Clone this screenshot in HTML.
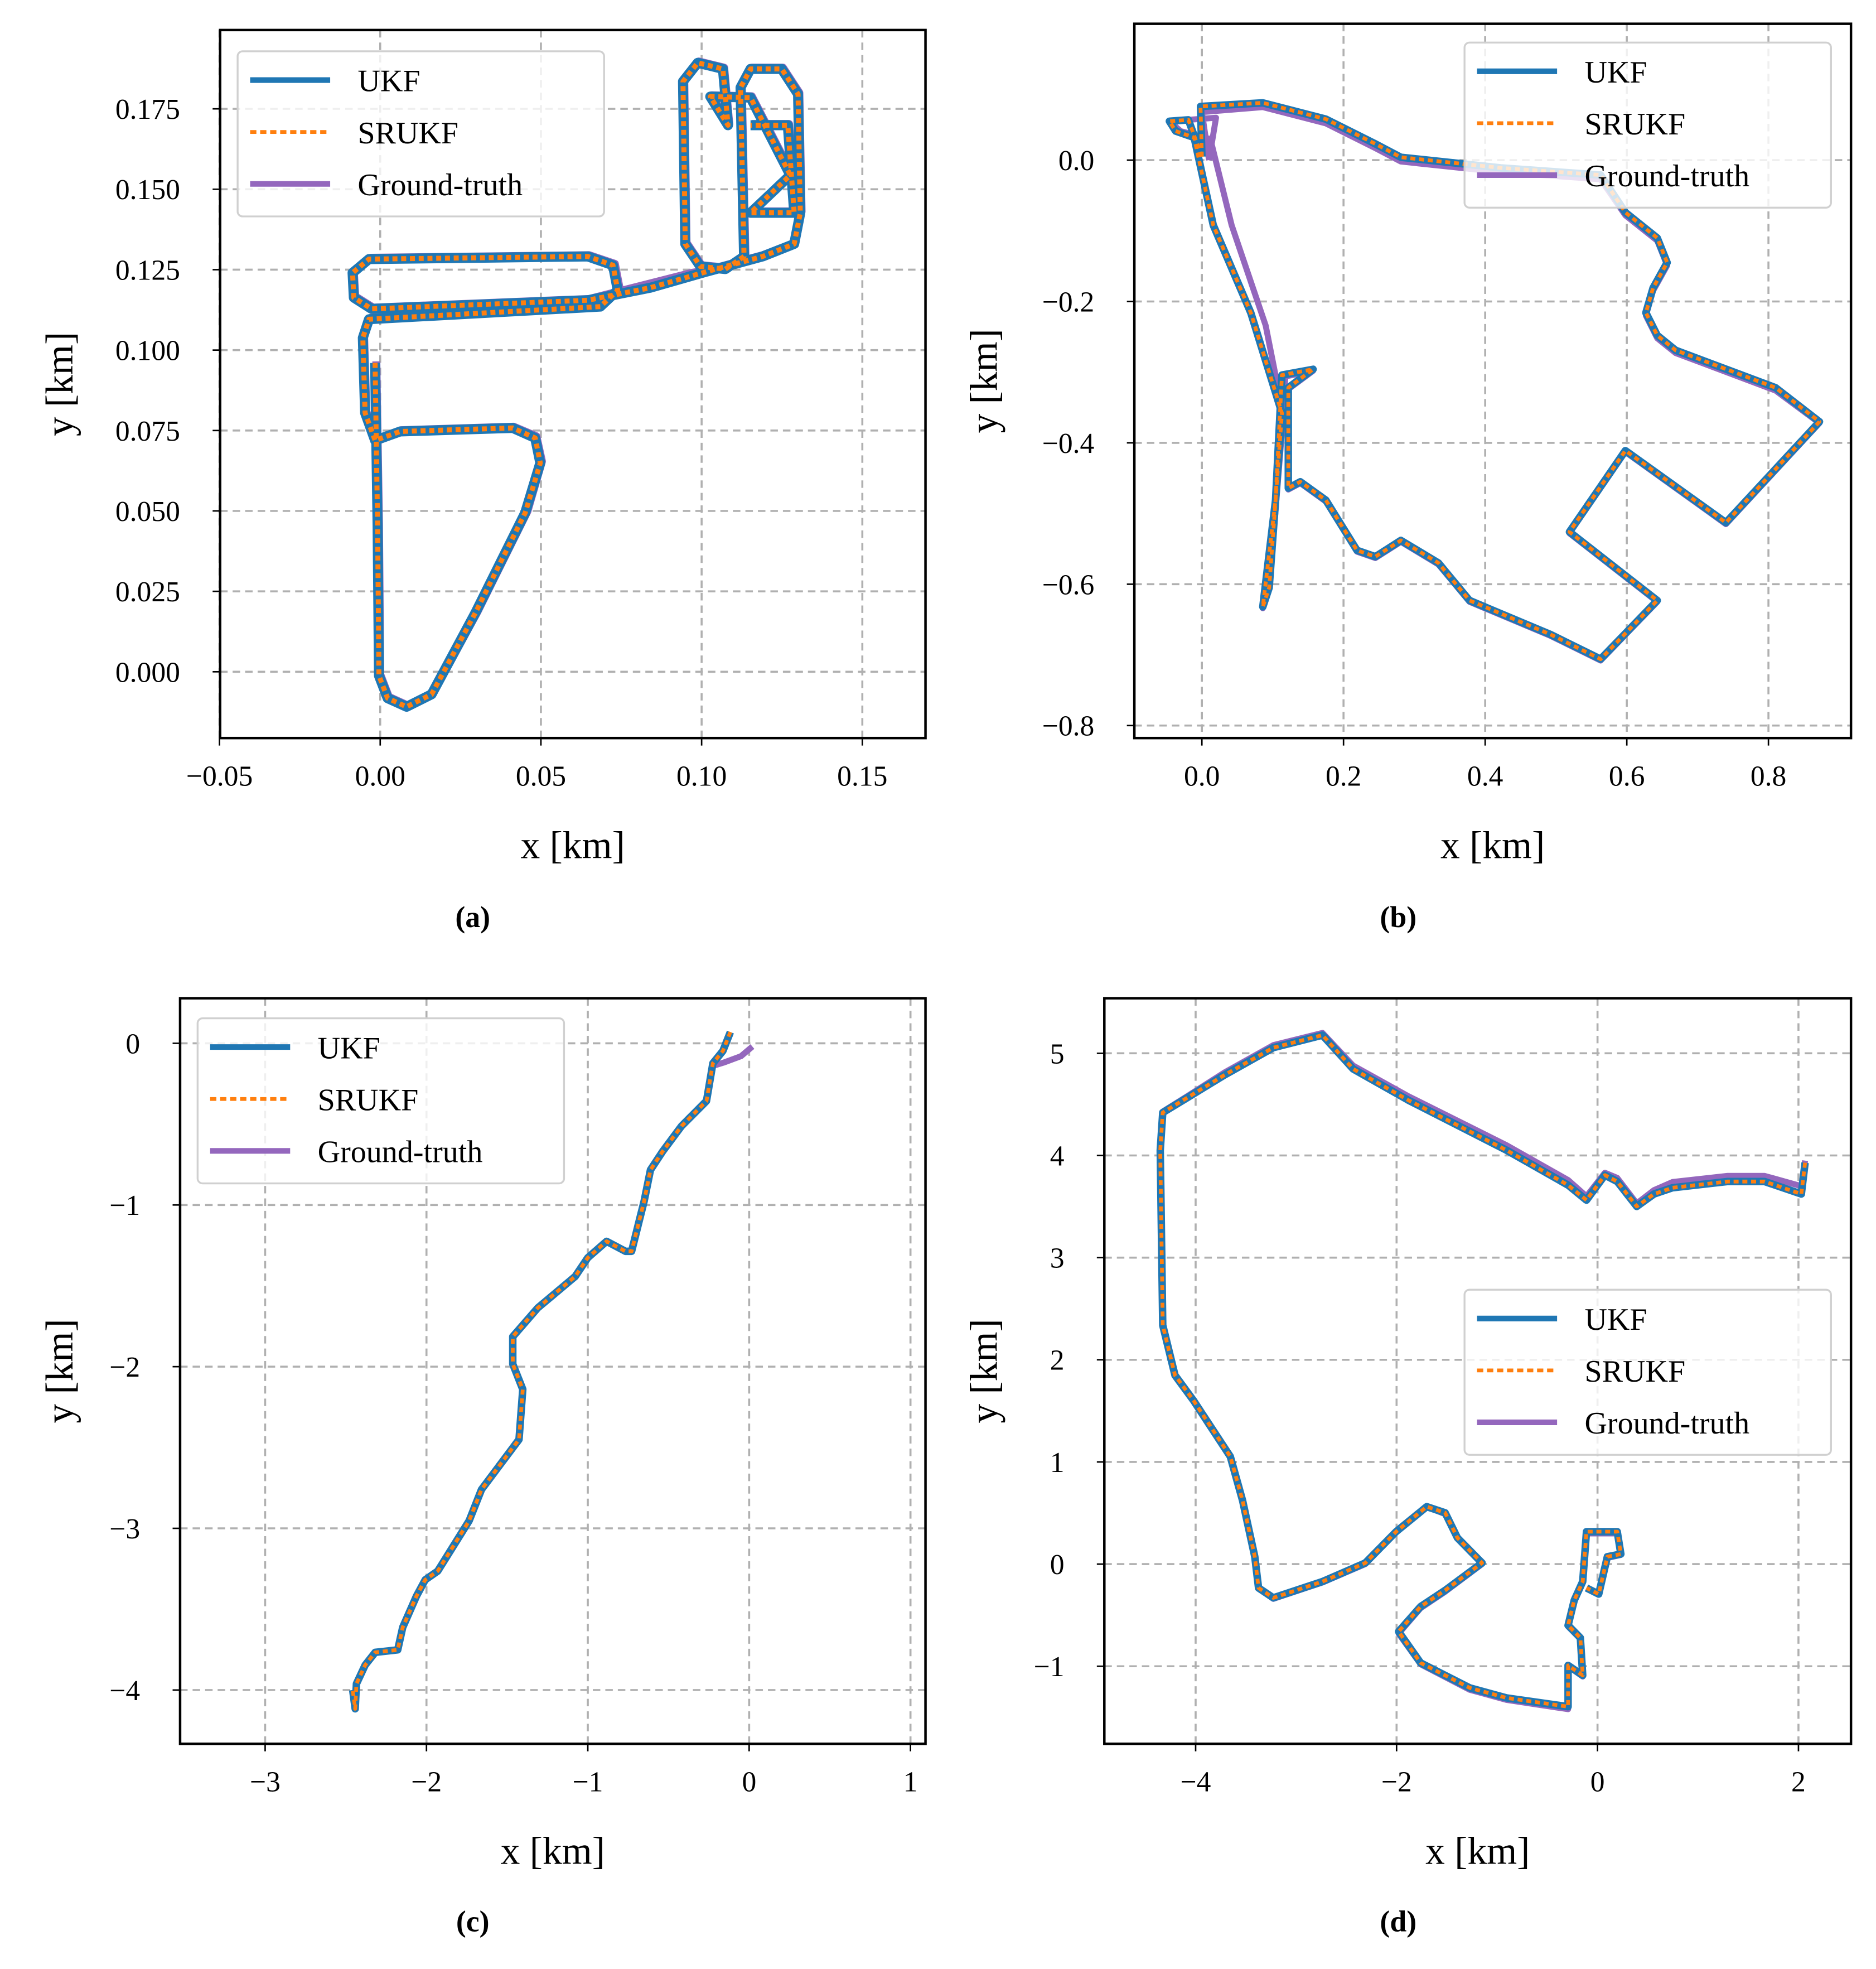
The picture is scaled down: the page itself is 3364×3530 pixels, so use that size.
<!DOCTYPE html>
<html><head><meta charset="utf-8"><style>
html,body{margin:0;padding:0;background:#fff}
svg{display:block}
text{font-family:"Liberation Serif",serif;fill:#000}
</style></head><body>
<svg id="fig" width="3364" height="3530" viewBox="0 0 1500 1574" xmlns="http://www.w3.org/2000/svg"></svg>
<script>
// ---- Panel (a) data (km) ----
const aEstX=[-0.0016,-0.0008,-0.0004,0.0023,0.0082,0.016,0.0296,0.0451,0.0498,0.0482,0.0412,0.0062,-0.0016,-0.0047,-0.0054,-0.0035,0.0685,0.0739,0.0724,0.0646,-0.0035,-0.0086,-0.0082,-0.0027,0.0646,0.084,0.1016,0.119,0.1288,0.1307,0.13,0.1249,0.1152,0.1121,0.1132,0.1074,0.0996,0.0949,0.0942,0.0988,0.1066,0.1082,0.1027,0.1152,0.1276,0.1152,0.1288,0.1268,0.1152];
const aEstY=[0.096,0.0455,-0.0012,-0.0082,-0.0109,-0.007,0.0183,0.0494,0.0649,0.0727,0.0758,0.0747,0.0719,0.0805,0.1038,0.1096,0.1135,0.1186,0.1264,0.1291,0.1283,0.124,0.1163,0.1128,0.1155,0.1194,0.1244,0.1291,0.133,0.1427,0.1796,0.1874,0.1874,0.1816,0.1291,0.1252,0.126,0.133,0.1835,0.1893,0.1874,0.1699,0.1788,0.1785,0.1544,0.1427,0.1427,0.1699,0.1699];
const aGtX=[-0.0012,-0.0004,0.0,0.0027,0.0086,0.0165,0.0303,0.0458,0.0503,0.0486,0.0415,0.0065,-0.0012,-0.0043,-0.0050,-0.0030,0.0690,0.0745,0.0730,0.0650,-0.0030,-0.0082,-0.0078,-0.0022,0.0650,0.097,0.1016,0.119,0.1292,0.1311,0.1304,0.1253,0.1156,0.1125,0.1136,0.1078,0.1000,0.0953,0.0946,0.0992,0.1070,0.1086,0.1031,0.1156,0.1280,0.1156,0.1292,0.1272,0.1156];
const aGtY=[0.0965,0.046,-0.0008,-0.0078,-0.0105,-0.0066,0.0188,0.0499,0.0654,0.0732,0.0762,0.0751,0.0723,0.0809,0.1042,0.110,0.1139,0.1190,0.1268,0.1295,0.1287,0.1244,0.1167,0.1132,0.1159,0.1240,0.1248,0.1295,0.1334,0.1431,0.1800,0.1878,0.1878,0.1820,0.1295,0.1256,0.1264,0.1334,0.1839,0.1897,0.1878,0.1703,0.1792,0.1789,0.1548,0.1431,0.1431,0.1703,0.1703];
const aXTicks=[-0.05,0.00,0.05,0.10,0.15];
const aXLabels=["\u22120.05","0.00","0.05","0.10","0.15"];
const aYTicks=[0,0.025,0.05,0.075,0.1,0.125,0.15,0.175];
const aYLabels=["0.000","0.025","0.050","0.075","0.100","0.125","0.150","0.175"];
// ---- Panel (b) ----
const bEstX=[0,-0.002,0.086,0.175,0.245,0.281,0.422,0.563,0.598,0.643,0.657,0.637,0.627,0.643,0.669,0.810,0.872,0.740,0.598,0.519,0.643,0.563,0.492,0.378,0.334,0.281,0.245,0.219,0.175,0.139,0.122,0.122,0.157,0.113,0.104,0.086,0.095,0.113,0.069,0.016,-0.011,-0.037,-0.046,-0.019,0];
const bEstY=[0.005,0.076,0.081,0.058,0.023,0.004,-0.011,-0.021,-0.074,-0.110,-0.145,-0.181,-0.216,-0.248,-0.269,-0.322,-0.370,-0.513,-0.411,-0.526,-0.623,-0.706,-0.671,-0.623,-0.570,-0.538,-0.561,-0.552,-0.481,-0.455,-0.464,-0.322,-0.296,-0.304,-0.481,-0.632,-0.605,-0.358,-0.216,-0.092,0.032,0.041,0.055,0.057,0.005];
const bGtX=[0.01,0.0,0.086,0.175,0.245,0.281,0.422,0.563,0.598,0.643,0.657,0.637,0.627,0.643,0.669,0.810,0.872,0.740,0.598,0.519,0.643,0.563,0.492,0.378,0.334,0.281,0.245,0.219,0.175,0.139,0.122,0.122,0.157,0.118,0.104,0.086,0.095,0.115,0.090,0.042,0.012,-0.030,-0.046,0.02,0.01];
const bGtY=[0.0,0.068,0.075,0.052,0.017,-0.002,-0.017,-0.027,-0.078,-0.114,-0.149,-0.185,-0.220,-0.252,-0.273,-0.326,-0.372,-0.515,-0.413,-0.528,-0.625,-0.708,-0.673,-0.625,-0.572,-0.540,-0.563,-0.554,-0.483,-0.457,-0.466,-0.324,-0.298,-0.306,-0.483,-0.634,-0.607,-0.360,-0.234,-0.092,0.030,0.041,0.055,0.060,0.0];
const bXTicks=[0,0.2,0.4,0.6,0.8];
const bXLabels=["0.0","0.2","0.4","0.6","0.8"];
const bYTicks=[0,-0.2,-0.4,-0.6,-0.8];
const bYLabels=["0.0","\u22120.2","\u22120.4","\u22120.6","\u22120.8"];
// ---- Panel (c) ----
const cEstX=[-0.116,-0.163,-0.225,-0.264,-0.419,-0.535,-0.612,-0.651,-0.729,-0.767,-0.884,-1.0,-1.078,-1.31,-1.465,-1.465,-1.403,-1.426,-1.543,-1.659,-1.736,-1.930,-2.008,-2.062,-2.147,-2.178,-2.318,-2.380,-2.434,-2.442,-2.457];
const cEstY=[0.070,-0.047,-0.124,-0.357,-0.512,-0.667,-0.783,-0.977,-1.287,-1.287,-1.225,-1.326,-1.442,-1.636,-1.814,-1.984,-2.140,-2.450,-2.605,-2.760,-2.953,-3.264,-3.318,-3.419,-3.612,-3.752,-3.767,-3.845,-3.961,-4.116,-4.0];
const cGtX=[0.02,-0.05,-0.16,-0.225,-0.264,-0.419,-0.535,-0.612,-0.651,-0.729,-0.767,-0.884,-1.0,-1.078,-1.31,-1.465,-1.465,-1.403,-1.426,-1.543,-1.659,-1.736,-1.930,-2.008,-2.062,-2.147,-2.178,-2.318,-2.380,-2.434,-2.442,-2.457];
const cGtY=[-0.02,-0.08,-0.12,-0.14,-0.357,-0.512,-0.667,-0.783,-0.977,-1.287,-1.287,-1.225,-1.326,-1.442,-1.636,-1.814,-1.984,-2.140,-2.450,-2.605,-2.760,-2.953,-3.264,-3.318,-3.419,-3.612,-3.752,-3.767,-3.845,-3.961,-4.116];
const cXTicks=[-3,-2,-1,0,1];
const cXLabels=["\u22123","\u22122","\u22121","0","1"];
const cYTicks=[0,-1,-2,-3,-4];
const cYLabels=["0","\u22121","\u22122","\u22123","\u22124"];
// ---- Panel (d) ----
const dEstX=[2.066,2.029,1.663,1.296,0.746,0.562,0.391,0.196,0.073,-0.110,-0.293,-0.905,-1.271,-1.883,-2.433,-2.738,-3.227,-3.716,-4.083,-4.328,-4.352,-4.328,-4.205,-4.022,-3.655,-3.533,-3.411,-3.374,-3.227,-2.738,-2.311,-2.005,-1.699,-1.516,-1.394,-1.149,-1.516,-1.760,-1.980,-1.760,-1.271,-0.905,-0.293,-0.293,-0.147,-0.171,-0.293,-0.232,-0.147,-0.110,0.196,0.232,0.098,0.012,-0.110];
const dEstY=[3.929,3.623,3.745,3.745,3.684,3.623,3.501,3.745,3.807,3.562,3.709,4.051,4.235,4.541,4.847,5.177,5.055,4.786,4.565,4.419,4.051,2.338,1.848,1.603,1.053,0.624,0.073,-0.233,-0.330,-0.171,0.012,0.318,0.563,0.502,0.257,0.012,-0.257,-0.416,-0.661,-0.967,-1.212,-1.310,-1.395,-0.991,-1.089,-0.722,-0.600,-0.355,-0.171,0.318,0.318,0.098,0.073,-0.294,-0.233];
const dGtX=[2.066,2.029,1.663,1.296,0.746,0.562,0.391,0.196,0.073,-0.110,-0.293,-0.905,-1.271,-1.883,-2.433,-2.738,-3.227,-3.716,-4.083,-4.328,-4.352,-4.328,-4.205,-4.022,-3.655,-3.533,-3.411,-3.374,-3.227,-2.738,-2.311,-2.005,-1.699,-1.516,-1.394,-1.149,-1.516,-1.760,-1.980,-1.760,-1.271,-0.905,-0.293,-0.293,-0.147,-0.171,-0.293,-0.232,-0.147,-0.110,0.196,0.232,0.098,0.012,-0.110];
const dGtY=[3.95,3.70,3.80,3.80,3.74,3.66,3.53,3.78,3.83,3.60,3.76,4.10,4.28,4.58,4.88,5.20,5.08,4.81,4.58,4.43,4.06,2.34,1.85,1.60,1.05,0.62,0.07,-0.24,-0.34,-0.18,0.00,0.31,0.56,0.49,0.25,0.00,-0.27,-0.43,-0.68,-0.98,-1.23,-1.33,-1.42,-1.00,-1.10,-0.73,-0.61,-0.37,-0.18,0.30,0.30,0.09,0.06,-0.30,-0.24];
const dXTicks=[-4,-2,0,2];
const dXLabels=["\u22124","\u22122","0","2"];
const dYTicks=[-1,0,1,2,3,4,5];
const dYLabels=["\u22121","0","1","2","3","4","5"];
const seriesNames=["UKF","SRUKF","Ground-truth"];

const NS="http://www.w3.org/2000/svg";
const svg=document.getElementById('fig');
function el(tag,attrs,parent){const e=document.createElementNS(NS,tag);for(const k in attrs)e.setAttribute(k,attrs[k]);(parent||svg).appendChild(e);return e;}

function panel(cfg){
  const g=el('g',{});
  
  
  const sx=v=>cfg.x0+(v-cfg.xv0)*(cfg.x1-cfg.x0)/(cfg.xv1-cfg.xv0);
  const sy=v=>cfg.y0+(v-cfg.yv0)*(cfg.y1-cfg.y0)/(cfg.yv1-cfg.yv0);
  const B=cfg.box;
  cfg.xt.forEach((t,i)=>{
    const x=sx(t);
    const gl=el('line',{x1:x,x2:x,y1:B[1],y2:B[3],stroke:'#b0b0b0','stroke-width':1.6,'stroke-dasharray':'6,4'},g);
    
    
    el('line',{x1:x,x2:x,y1:B[3],y2:B[3]+6,stroke:'#000','stroke-width':1.2},g);
    const tx=el('text',{x:x,y:B[3]+38,'font-size':23,'text-anchor':'middle'},g);
    tx.textContent=cfg.xl[i];
    
    
  });
  cfg.yt.forEach((t,i)=>{
    const y=sy(t);
    const gl=el('line',{x1:B[0],x2:B[2],y1:y,y2:y,stroke:'#b0b0b0','stroke-width':1.6,'stroke-dasharray':'6,4'},g);
    
    
    el('line',{x1:B[0]-6,x2:B[0],y1:y,y2:y,stroke:'#000','stroke-width':1.2},g);
    const tx=el('text',{x:B[0]-32,y:y+8,'font-size':23,'text-anchor':'end'},g);
    tx.textContent=cfg.yl[i];
    
    
  });
  const clipId='clip'+cfg.id;
  const cp=el('clipPath',{id:clipId},g);
  el('rect',{x:B[0],y:B[1],width:B[2]-B[0],height:B[3]-B[1]},cp);
  const pts=(X,Y)=>X.map((v,i)=>sx(v).toFixed(1)+','+sy(Y[i]).toFixed(1)).join(' ');
  const gt=el('polyline',{points:pts(cfg.gx,cfg.gy),fill:'none',stroke:'#9467bd','stroke-width':cfg.w*0.8,'stroke-linejoin':'round','clip-path':'url(#'+clipId+')'},g);
  
  
  const uk=el('polyline',{points:pts(cfg.ex,cfg.ey),fill:'none',stroke:'#1f77b4','stroke-width':cfg.w,'stroke-linejoin':'round','clip-path':'url(#'+clipId+')'},g);
  
  
  const sr=el('polyline',{points:pts(cfg.ex,cfg.ey),fill:'none',stroke:'#ff7f0e','stroke-width':cfg.w*0.5,'stroke-dasharray':'4,3','stroke-linejoin':'round','clip-path':'url(#'+clipId+')'},g);
  
  
  const fr=el('rect',{x:B[0],y:B[1],width:B[2]-B[0],height:B[3]-B[1],fill:'none',stroke:'#000','stroke-width':2},g);
  
  
  const L=cfg.leg;
  const lg=el('g',{},g);
  
  
  el('rect',{x:L[0],y:L[1],width:293,height:132,rx:4,fill:'#fff','fill-opacity':0.8,stroke:'#d0d0d0','stroke-width':1.5},lg);
  const styles=[{stroke:'#1f77b4','stroke-width':4.5},{stroke:'#ff7f0e','stroke-width':3,'stroke-dasharray':'5,3'},{stroke:'#9467bd','stroke-width':4.5}];
  seriesNames.forEach((n,i)=>{
    const y=L[1]+23+i*41.5;
    const ln=el('line',Object.assign({x1:L[0]+10,x2:L[0]+74,y1:y,y2:y},styles[i]),lg);
    
    
    const t=el('text',{x:L[0]+96,y:y+9,'font-size':25},lg);
    t.textContent=n;
    
    
  });
  const xl=el('text',{x:(B[0]+B[2])/2,y:B[3]+96,'font-size':31,'text-anchor':'middle'},g);
  xl.textContent='x [km]';
  
  
  const ylx=cfg.ylx;
  const yl=el('text',{x:ylx,y:(B[1]+B[3])/2,'font-size':31,'text-anchor':'middle',transform:'rotate(-90 '+ylx+' '+((B[1]+B[3])/2)+')'},g);
  yl.textContent='y [km]';
  
  
  const cap=el('text',{x:cfg.cap[0],y:cfg.cap[1],'font-size':24,'font-weight':'bold','text-anchor':'middle'},g);
  cap.textContent='('+cfg.id+')';
  
  
}

panel({id:'a',box:[176,24,740,590],xv0:0,xv1:0.1,x0:304,x1:561,yv0:0,yv1:0.175,y0:537,y1:87,
  xt:aXTicks,xl:aXLabels,yt:aYTicks,yl:aYLabels,ex:aEstX,ey:aEstY,gx:aGtX,gy:aGtY,w:8,leg:[190,41],ylx:58,cap:[378,741]});
panel({id:'b',box:[907,19,1480,590],xv0:0,xv1:0.8,x0:961,x1:1414,yv0:0,yv1:-0.8,y0:128,y1:580,
  xt:bXTicks,xl:bXLabels,yt:bYTicks,yl:bYLabels,ex:bEstX,ey:bEstY,gx:bGtX,gy:bGtY,w:6,leg:[1171,34],ylx:797,cap:[1118,741]});
panel({id:'c',box:[144,798,740,1394],xv0:-3,xv1:1,x0:212,x1:728,yv0:0,yv1:-4,y0:834,y1:1351,
  xt:cXTicks,xl:cXLabels,yt:cYTicks,yl:cYLabels,ex:cEstX,ey:cEstY,gx:cGtX,gy:cGtY,w:6,leg:[158,814],ylx:58,cap:[378,1544]});
panel({id:'d',box:[883,798,1480,1394],xv0:-4,xv1:2,x0:956,x1:1438,yv0:5,yv1:-1,y0:842,y1:1332,
  xt:dXTicks,xl:dXLabels,yt:dYTicks,yl:dYLabels,ex:dEstX,ey:dEstY,gx:dGtX,gy:dGtY,w:6,leg:[1171,1031],ylx:797,cap:[1118,1544]});
</script>
</body></html>
